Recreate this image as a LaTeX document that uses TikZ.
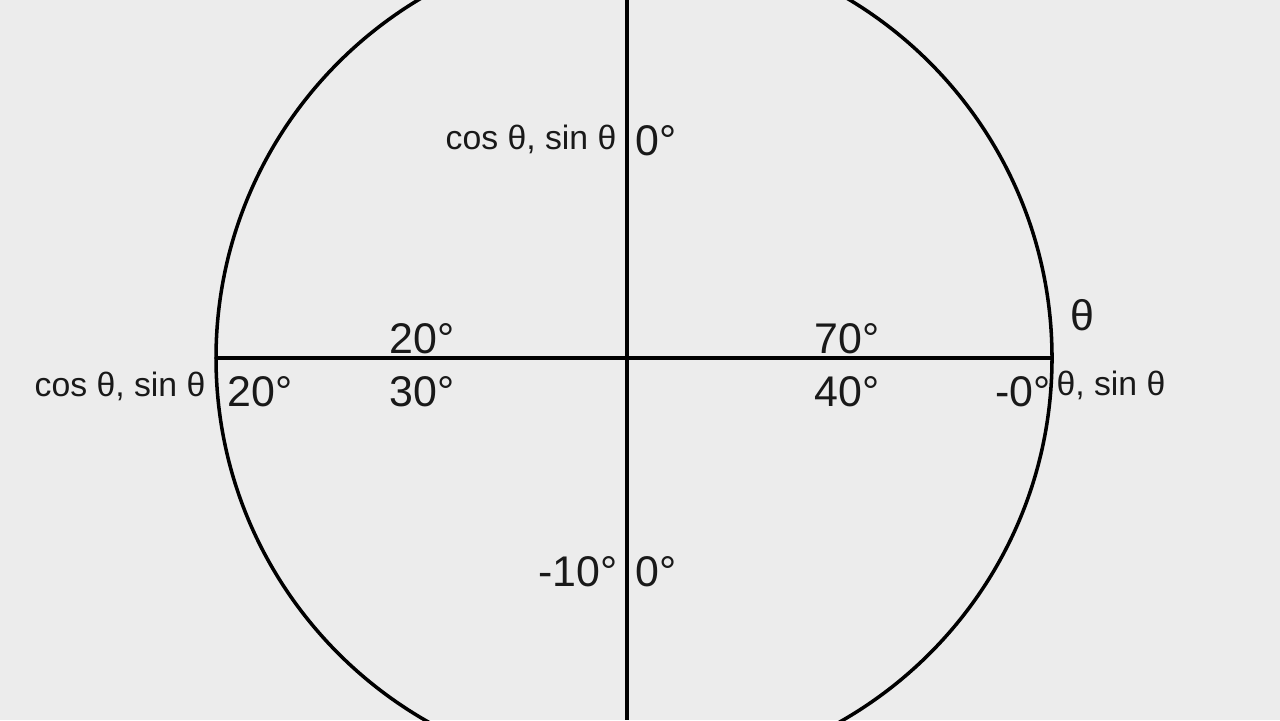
\documentclass[tikz,border=0pt]{standalone}
\usepackage{fontspec}
\setmainfont{Liberation Sans}
\usetikzlibrary{positioning}
\definecolor{paper}{HTML}{ECECEC}
\begin{document}
\begin{tikzpicture}[x=0.01cm,y=-0.01cm]
		\tikzstyle{axis} = [draw=black, line width=1pt]
		\tikzstyle{deg} = [inner sep=0pt, text=black!90, font=\fontsize{12.2}{14}\selectfont]
		\tikzstyle{trig} = [inner sep=0pt, text=black!90, font=\fontsize{9.6}{11}\selectfont]
		\fill[paper] (0,0) rectangle (1280,720);
		\useasboundingbox (0,0) rectangle (1280,720);
		\clip (0,0) rectangle (1280,720);
		\coordinate (center) at (634,358);
		\coordinate (west) at (216,358);
		\coordinate (east) at (1052,358);
		\coordinate (top) at (627,0);
		\coordinate (bottom) at (627,720);
		\draw [axis] (center) circle (418);
		\path [axis] (west) -- (east);
		\path [axis] (top) -- (bottom);
		% labels
		\node (trigtop) [trig] at (531,139) {cos θ, sin θ};
		\node (degtop) [deg] at (656,141) {0°};
		\node (degwa) [deg] at (422,339) {20°};
		\node (degea) [deg] at (847,339) {70°};
		\node (theta) [deg] at (1082,315) {θ};
		\node (trigwest) [trig] at (120,386) {cos θ, sin θ};
		\node (degwb) [deg] at (260,392) {20°};
		\node (degwc) [deg] at (422,392) {30°};
		\node (degeb) [deg] at (847,392) {40°};
		\node (degec) [deg] at (1023,392) {-0°};
		\node (trigeast) [trig] at (1111,385) {θ, sin θ};
		\node (degsa) [deg] at (578,572) {-10°};
		\node (degsb) [deg] at (656,572) {0°};
	\end{tikzpicture}
\end{document}
